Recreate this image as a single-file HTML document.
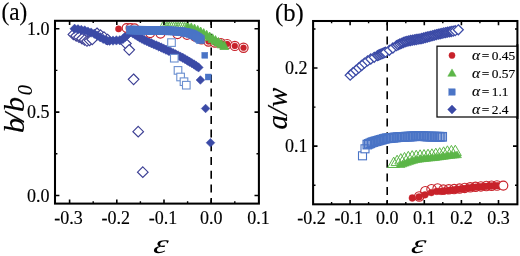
<!DOCTYPE html>
<html><head><meta charset="utf-8"><title>figure</title>
<style>
html,body{margin:0;padding:0;background:#fff;}
body{width:520px;height:256px;overflow:hidden;}
svg{display:block;}
svg text{font-family:"Liberation Serif",serif;fill:#000;stroke:#000;stroke-width:0.15px;}
</style></head>
<body>
<svg width="520" height="256" viewBox="0 0 520 256">
<rect width="520" height="256" fill="#fff"/>
<path d="M211.2 203.6V20.8" stroke="#000" stroke-width="1.6" stroke-dasharray="5.5 5.7 8.0 5.7 8.0 5.7 8.0 5.7 8.0 5.7 8.0 5.7 8.0 5.7 8.0 5.7 8.0 5.7 8.0 5.7 8.0 5.7 8.0 5.7 8.0 5.7 8.0 5.7 8.0 5.7 8.0 5.7" fill="none"/>
<path d="M73.4 29.1L78.7 34.4L73.4 39.7L68.1 34.4Z" fill="#fff" stroke="#3c3f94" stroke-width="1.15"/>
<path d="M76.2 30.5L81.5 35.8L76.2 41.1L70.9 35.8Z" fill="#fff" stroke="#3c3f94" stroke-width="1.15"/>
<path d="M79.0 31.8L84.3 37.1L79.0 42.4L73.7 37.1Z" fill="#fff" stroke="#3c3f94" stroke-width="1.15"/>
<path d="M82.0 33.3L87.3 38.6L82.0 43.9L76.7 38.6Z" fill="#fff" stroke="#3c3f94" stroke-width="1.15"/>
<path d="M84.6 34.7L89.9 40.0L84.6 45.3L79.3 40.0Z" fill="#fff" stroke="#3c3f94" stroke-width="1.15"/>
<path d="M87.0 35.7L92.3 41.0L87.0 46.3L81.7 41.0Z" fill="#fff" stroke="#3c3f94" stroke-width="1.15"/>
<path d="M89.6 35.0L94.9 40.3L89.6 45.6L84.3 40.3Z" fill="#fff" stroke="#3c3f94" stroke-width="1.15"/>
<path d="M92.2 34.1L97.5 39.4L92.2 44.7L86.9 39.4Z" fill="#fff" stroke="#3c3f94" stroke-width="1.15"/>
<path d="M97.0 28.0L102.3 33.3L97.0 38.6L91.7 33.3Z" fill="#fff" stroke="#3c3f94" stroke-width="1.15"/>
<path d="M100.5 29.8L105.8 35.1L100.5 40.4L95.2 35.1Z" fill="#fff" stroke="#3c3f94" stroke-width="1.15"/>
<path d="M104.0 31.8L109.3 37.1L104.0 42.4L98.7 37.1Z" fill="#fff" stroke="#3c3f94" stroke-width="1.15"/>
<path d="M107.5 34.2L112.8 39.5L107.5 44.8L102.2 39.5Z" fill="#fff" stroke="#3c3f94" stroke-width="1.15"/>
<path d="M125.9 38.3L131.2 43.6L125.9 48.9L120.6 43.6Z" fill="#fff" stroke="#3c3f94" stroke-width="1.15"/>
<path d="M129.2 44.5L134.5 49.8L129.2 55.1L123.9 49.8Z" fill="#fff" stroke="#3c3f94" stroke-width="1.15"/>
<path d="M133.6 74.0L138.9 79.3L133.6 84.6L128.3 79.3Z" fill="#fff" stroke="#3c3f94" stroke-width="1.15"/>
<path d="M138.2 126.4L143.5 131.7L138.2 137.0L132.9 131.7Z" fill="#fff" stroke="#3c3f94" stroke-width="1.15"/>
<path d="M142.8 166.9L148.1 172.2L142.8 177.5L137.5 172.2Z" fill="#fff" stroke="#3c3f94" stroke-width="1.15"/>
<path d="M74.6 24.1L79.3 28.8L74.6 33.5L69.9 28.8Z" fill="#3b4aa6" stroke="#3b4aa6" stroke-width="0.5"/>
<path d="M78.0 24.6L82.7 29.3L78.0 34.0L73.3 29.3Z" fill="#3b4aa6" stroke="#3b4aa6" stroke-width="0.5"/>
<path d="M81.3 25.2L86.0 29.9L81.3 34.6L76.6 29.9Z" fill="#3b4aa6" stroke="#3b4aa6" stroke-width="0.5"/>
<path d="M84.7 25.8L89.4 30.5L84.7 35.2L80.0 30.5Z" fill="#3b4aa6" stroke="#3b4aa6" stroke-width="0.5"/>
<path d="M87.9 26.9L92.6 31.6L87.9 36.3L83.2 31.6Z" fill="#3b4aa6" stroke="#3b4aa6" stroke-width="0.5"/>
<path d="M91.1 27.9L95.8 32.6L91.1 37.3L86.4 32.6Z" fill="#3b4aa6" stroke="#3b4aa6" stroke-width="0.5"/>
<path d="M94.3 29.1L99.0 33.8L94.3 38.5L89.6 33.8Z" fill="#3b4aa6" stroke="#3b4aa6" stroke-width="0.5"/>
<path d="M97.3 30.9L102.0 35.6L97.3 40.3L92.6 35.6Z" fill="#3b4aa6" stroke="#3b4aa6" stroke-width="0.5"/>
<path d="M100.2 32.5L104.9 37.2L100.2 41.9L95.5 37.2Z" fill="#3b4aa6" stroke="#3b4aa6" stroke-width="0.5"/>
<path d="M103.2 34.2L107.9 38.9L103.2 43.6L98.5 38.9Z" fill="#3b4aa6" stroke="#3b4aa6" stroke-width="0.5"/>
<path d="M106.3 35.5L111.0 40.2L106.3 44.9L101.6 40.2Z" fill="#3b4aa6" stroke="#3b4aa6" stroke-width="0.5"/>
<path d="M109.6 36.0L114.3 40.7L109.6 45.4L104.9 40.7Z" fill="#3b4aa6" stroke="#3b4aa6" stroke-width="0.5"/>
<path d="M113.0 35.9L117.7 40.6L113.0 45.3L108.3 40.6Z" fill="#3b4aa6" stroke="#3b4aa6" stroke-width="0.5"/>
<path d="M116.4 35.7L121.1 40.4L116.4 45.1L111.7 40.4Z" fill="#3b4aa6" stroke="#3b4aa6" stroke-width="0.5"/>
<path d="M119.8 35.6L124.5 40.3L119.8 45.0L115.1 40.3Z" fill="#3b4aa6" stroke="#3b4aa6" stroke-width="0.5"/>
<path d="M122.9 34.3L127.6 39.0L122.9 43.7L118.2 39.0Z" fill="#3b4aa6" stroke="#3b4aa6" stroke-width="0.5"/>
<path d="M125.5 32.1L130.2 36.8L125.5 41.5L120.8 36.8Z" fill="#3b4aa6" stroke="#3b4aa6" stroke-width="0.5"/>
<path d="M127.8 29.6L132.5 34.3L127.8 39.0L123.1 34.3Z" fill="#3b4aa6" stroke="#3b4aa6" stroke-width="0.5"/>
<path d="M130.5 27.6L135.2 32.3L130.5 37.0L125.8 32.3Z" fill="#3b4aa6" stroke="#3b4aa6" stroke-width="0.5"/>
<path d="M132.9 28.7L137.6 33.4L132.9 38.1L128.2 33.4Z" fill="#3b4aa6" stroke="#3b4aa6" stroke-width="0.5"/>
<path d="M135.2 30.0L139.9 34.7L135.2 39.4L130.5 34.7Z" fill="#3b4aa6" stroke="#3b4aa6" stroke-width="0.5"/>
<path d="M137.4 31.4L142.1 36.1L137.4 40.8L132.7 36.1Z" fill="#3b4aa6" stroke="#3b4aa6" stroke-width="0.5"/>
<path d="M139.7 32.8L144.4 37.5L139.7 42.2L135.0 37.5Z" fill="#3b4aa6" stroke="#3b4aa6" stroke-width="0.5"/>
<path d="M142.0 34.1L146.7 38.8L142.0 43.5L137.3 38.8Z" fill="#3b4aa6" stroke="#3b4aa6" stroke-width="0.5"/>
<path d="M144.3 35.3L149.0 40.0L144.3 44.7L139.6 40.0Z" fill="#3b4aa6" stroke="#3b4aa6" stroke-width="0.5"/>
<path d="M146.7 36.4L151.4 41.1L146.7 45.8L142.0 41.1Z" fill="#3b4aa6" stroke="#3b4aa6" stroke-width="0.5"/>
<path d="M149.1 37.5L153.8 42.2L149.1 46.9L144.4 42.2Z" fill="#3b4aa6" stroke="#3b4aa6" stroke-width="0.5"/>
<path d="M151.5 38.6L156.2 43.3L151.5 48.0L146.8 43.3Z" fill="#3b4aa6" stroke="#3b4aa6" stroke-width="0.5"/>
<path d="M153.9 39.7L158.6 44.4L153.9 49.1L149.2 44.4Z" fill="#3b4aa6" stroke="#3b4aa6" stroke-width="0.5"/>
<path d="M156.4 40.7L161.1 45.4L156.4 50.1L151.7 45.4Z" fill="#3b4aa6" stroke="#3b4aa6" stroke-width="0.5"/>
<path d="M158.8 41.8L163.5 46.5L158.8 51.2L154.1 46.5Z" fill="#3b4aa6" stroke="#3b4aa6" stroke-width="0.5"/>
<path d="M161.2 42.8L165.9 47.5L161.2 52.2L156.5 47.5Z" fill="#3b4aa6" stroke="#3b4aa6" stroke-width="0.5"/>
<path d="M163.6 43.9L168.3 48.6L163.6 53.3L158.9 48.6Z" fill="#3b4aa6" stroke="#3b4aa6" stroke-width="0.5"/>
<path d="M166.0 45.0L170.7 49.7L166.0 54.4L161.3 49.7Z" fill="#3b4aa6" stroke="#3b4aa6" stroke-width="0.5"/>
<path d="M168.4 46.1L173.1 50.8L168.4 55.5L163.7 50.8Z" fill="#3b4aa6" stroke="#3b4aa6" stroke-width="0.5"/>
<path d="M170.8 47.2L175.5 51.9L170.8 56.6L166.1 51.9Z" fill="#3b4aa6" stroke="#3b4aa6" stroke-width="0.5"/>
<path d="M173.2 48.4L177.9 53.1L173.2 57.8L168.5 53.1Z" fill="#3b4aa6" stroke="#3b4aa6" stroke-width="0.5"/>
<path d="M175.6 49.6L180.3 54.3L175.6 59.0L170.9 54.3Z" fill="#3b4aa6" stroke="#3b4aa6" stroke-width="0.5"/>
<path d="M178.0 50.7L182.7 55.4L178.0 60.1L173.3 55.4Z" fill="#3b4aa6" stroke="#3b4aa6" stroke-width="0.5"/>
<path d="M180.3 51.9L185.0 56.6L180.3 61.3L175.6 56.6Z" fill="#3b4aa6" stroke="#3b4aa6" stroke-width="0.5"/>
<path d="M182.7 53.1L187.4 57.8L182.7 62.5L178.0 57.8Z" fill="#3b4aa6" stroke="#3b4aa6" stroke-width="0.5"/>
<path d="M185.0 54.4L189.7 59.1L185.0 63.8L180.3 59.1Z" fill="#3b4aa6" stroke="#3b4aa6" stroke-width="0.5"/>
<path d="M187.3 55.8L192.0 60.5L187.3 65.2L182.6 60.5Z" fill="#3b4aa6" stroke="#3b4aa6" stroke-width="0.5"/>
<path d="M189.5 57.1L194.2 61.8L189.5 66.5L184.8 61.8Z" fill="#3b4aa6" stroke="#3b4aa6" stroke-width="0.5"/>
<path d="M191.8 58.4L196.5 63.1L191.8 67.8L187.1 63.1Z" fill="#3b4aa6" stroke="#3b4aa6" stroke-width="0.5"/>
<path d="M194.1 59.8L198.8 64.5L194.1 69.2L189.4 64.5Z" fill="#3b4aa6" stroke="#3b4aa6" stroke-width="0.5"/>
<path d="M196.3 61.3L201.0 66.0L196.3 70.7L191.6 66.0Z" fill="#3b4aa6" stroke="#3b4aa6" stroke-width="0.5"/>
<path d="M198.5 62.7L203.2 67.4L198.5 72.1L193.8 67.4Z" fill="#3b4aa6" stroke="#3b4aa6" stroke-width="0.5"/>
<path d="M200.4 75.7L204.7 80.0L200.4 84.3L196.1 80.0Z" fill="#3b4aa6" stroke="#3b4aa6" stroke-width="0.6"/>
<path d="M205.6 104.2L209.9 108.5L205.6 112.8L201.3 108.5Z" fill="#3b4aa6" stroke="#3b4aa6" stroke-width="0.6"/>
<path d="M210.5 138.4L214.8 142.7L210.5 147.0L206.2 142.7Z" fill="#3b4aa6" stroke="#3b4aa6" stroke-width="0.6"/>
<circle cx="118.6" cy="28.9" r="3.15" fill="#c8222a" stroke="#c8222a" stroke-width="0.5"/>
<circle cx="126.6" cy="28.0" r="4.4" fill="#fff" stroke="#c8222a" stroke-width="1.2"/>
<circle cx="130.5" cy="28.0" r="4.4" fill="#fff" stroke="#c8222a" stroke-width="1.2"/>
<circle cx="134.5" cy="28.2" r="4.4" fill="#fff" stroke="#c8222a" stroke-width="1.2"/>
<circle cx="150.2" cy="33.3" r="4.4" fill="#fff" stroke="#c8222a" stroke-width="1.2"/>
<circle cx="160.5" cy="33.7" r="4.4" fill="#fff" stroke="#c8222a" stroke-width="1.2"/>
<circle cx="177.5" cy="34.3" r="4.4" fill="#fff" stroke="#c8222a" stroke-width="1.2"/>
<circle cx="187.0" cy="35.0" r="4.4" fill="#fff" stroke="#c8222a" stroke-width="1.2"/>
<circle cx="195.0" cy="36.8" r="4.4" fill="#fff" stroke="#c8222a" stroke-width="1.2"/>
<circle cx="201.5" cy="39.2" r="4.6" fill="#fff" stroke="#c8222a" stroke-width="1.2"/>
<circle cx="208.5" cy="41.6" r="4.6" fill="#fff" stroke="#c8222a" stroke-width="1.2"/>
<circle cx="215.0" cy="42.6" r="4.6" fill="#fff" stroke="#c8222a" stroke-width="1.2"/>
<circle cx="221.0" cy="43.2" r="4.6" fill="#fff" stroke="#c8222a" stroke-width="1.2"/>
<circle cx="227.2" cy="44.1" r="4.6" fill="#fff" stroke="#c8222a" stroke-width="1.2"/>
<circle cx="234.8" cy="45.9" r="4.6" fill="#fff" stroke="#c8222a" stroke-width="1.2"/>
<circle cx="243.5" cy="47.8" r="4.6" fill="#fff" stroke="#c8222a" stroke-width="1.2"/>
<circle cx="201.5" cy="39.2" r="3.0" fill="#c8222a" stroke="#c8222a" stroke-width="0.4"/>
<circle cx="208.5" cy="41.6" r="3.0" fill="#c8222a" stroke="#c8222a" stroke-width="0.4"/>
<circle cx="215.0" cy="42.6" r="3.0" fill="#c8222a" stroke="#c8222a" stroke-width="0.4"/>
<circle cx="221.0" cy="43.2" r="3.0" fill="#c8222a" stroke="#c8222a" stroke-width="0.4"/>
<circle cx="227.2" cy="44.1" r="3.0" fill="#c8222a" stroke="#c8222a" stroke-width="0.4"/>
<circle cx="234.8" cy="45.9" r="3.0" fill="#c8222a" stroke="#c8222a" stroke-width="0.4"/>
<circle cx="243.5" cy="47.8" r="3.0" fill="#c8222a" stroke="#c8222a" stroke-width="0.4"/>
<path d="M162.5 21.9L165.4 28.1L159.6 28.1Z" fill="none" stroke="#63b94f" stroke-width="1.0" stroke-linejoin="miter"/>
<path d="M164.7 21.9L167.6 28.1L161.8 28.1Z" fill="none" stroke="#63b94f" stroke-width="1.0" stroke-linejoin="miter"/>
<path d="M167.0 22.0L169.9 28.2L164.1 28.2Z" fill="none" stroke="#63b94f" stroke-width="1.0" stroke-linejoin="miter"/>
<path d="M169.2 22.0L172.1 28.2L166.3 28.2Z" fill="none" stroke="#63b94f" stroke-width="1.0" stroke-linejoin="miter"/>
<path d="M171.4 22.0L174.3 28.2L168.5 28.2Z" fill="none" stroke="#63b94f" stroke-width="1.0" stroke-linejoin="miter"/>
<path d="M173.6 22.0L176.5 28.2L170.7 28.2Z" fill="none" stroke="#63b94f" stroke-width="1.0" stroke-linejoin="miter"/>
<path d="M175.9 22.1L178.8 28.3L173.0 28.3Z" fill="none" stroke="#63b94f" stroke-width="1.0" stroke-linejoin="miter"/>
<path d="M178.1 22.1L181.0 28.3L175.2 28.3Z" fill="none" stroke="#63b94f" stroke-width="1.0" stroke-linejoin="miter"/>
<path d="M180.3 22.1L183.2 28.3L177.4 28.3Z" fill="none" stroke="#63b94f" stroke-width="1.0" stroke-linejoin="miter"/>
<path d="M182.6 22.2L185.5 28.4L179.7 28.4Z" fill="none" stroke="#63b94f" stroke-width="1.0" stroke-linejoin="miter"/>
<path d="M184.8 22.4L187.7 28.6L181.9 28.6Z" fill="none" stroke="#63b94f" stroke-width="1.0" stroke-linejoin="miter"/>
<path d="M187.0 22.5L189.9 28.7L184.1 28.7Z" fill="none" stroke="#63b94f" stroke-width="1.0" stroke-linejoin="miter"/>
<path d="M188.0 22.1L192.4 30.7L183.6 30.7Z" fill="#5cb648" stroke="#5cb648" stroke-width="0.8" stroke-linejoin="miter"/>
<path d="M191.3 22.9L195.7 31.5L186.9 31.5Z" fill="#5cb648" stroke="#5cb648" stroke-width="0.8" stroke-linejoin="miter"/>
<path d="M194.5 24.1L198.9 32.7L190.1 32.7Z" fill="#5cb648" stroke="#5cb648" stroke-width="0.8" stroke-linejoin="miter"/>
<path d="M197.7 25.4L202.1 34.0L193.3 34.0Z" fill="#5cb648" stroke="#5cb648" stroke-width="0.8" stroke-linejoin="miter"/>
<path d="M200.7 27.0L205.1 35.6L196.3 35.6Z" fill="#5cb648" stroke="#5cb648" stroke-width="0.8" stroke-linejoin="miter"/>
<path d="M203.7 28.6L208.1 37.2L199.3 37.2Z" fill="#5cb648" stroke="#5cb648" stroke-width="0.8" stroke-linejoin="miter"/>
<path d="M206.7 30.3L211.1 38.9L202.3 38.9Z" fill="#5cb648" stroke="#5cb648" stroke-width="0.8" stroke-linejoin="miter"/>
<path d="M209.7 32.0L214.1 40.6L205.3 40.6Z" fill="#5cb648" stroke="#5cb648" stroke-width="0.8" stroke-linejoin="miter"/>
<path d="M212.6 33.8L217.0 42.4L208.2 42.4Z" fill="#5cb648" stroke="#5cb648" stroke-width="0.8" stroke-linejoin="miter"/>
<path d="M215.5 35.6L219.9 44.2L211.1 44.2Z" fill="#5cb648" stroke="#5cb648" stroke-width="0.8" stroke-linejoin="miter"/>
<path d="M218.4 37.4L222.8 46.0L214.0 46.0Z" fill="#5cb648" stroke="#5cb648" stroke-width="0.8" stroke-linejoin="miter"/>
<path d="M221.3 39.2L225.7 47.8L216.9 47.8Z" fill="#5cb648" stroke="#5cb648" stroke-width="0.8" stroke-linejoin="miter"/>
<path d="M224.3 40.9L228.7 49.5L219.9 49.5Z" fill="#5cb648" stroke="#5cb648" stroke-width="0.8" stroke-linejoin="miter"/>
<rect x="167.7" y="38.8" width="7.6" height="7.6" fill="#fff" stroke="#6a8fd0" stroke-width="1.1"/>
<rect x="170.5" y="54.4" width="7.6" height="7.6" fill="#fff" stroke="#6a8fd0" stroke-width="1.1"/>
<rect x="174.2" y="66.6" width="7.6" height="7.6" fill="#fff" stroke="#6a8fd0" stroke-width="1.1"/>
<rect x="176.8" y="73.2" width="7.6" height="7.6" fill="#fff" stroke="#6a8fd0" stroke-width="1.1"/>
<rect x="180.2" y="77.9" width="7.6" height="7.6" fill="#fff" stroke="#6a8fd0" stroke-width="1.1"/>
<rect x="182.5" y="81.4" width="7.6" height="7.6" fill="#fff" stroke="#6a8fd0" stroke-width="1.1"/>
<rect x="126.2" y="26.0" width="8.0" height="8.0" fill="#4a74c6" stroke="#4a74c6" stroke-width="0.5"/>
<rect x="128.2" y="26.0" width="8.0" height="8.0" fill="#4a74c6" stroke="#4a74c6" stroke-width="0.5"/>
<rect x="130.2" y="26.1" width="8.0" height="8.0" fill="#4a74c6" stroke="#4a74c6" stroke-width="0.5"/>
<rect x="132.2" y="26.1" width="8.0" height="8.0" fill="#4a74c6" stroke="#4a74c6" stroke-width="0.5"/>
<rect x="134.2" y="26.2" width="8.0" height="8.0" fill="#4a74c6" stroke="#4a74c6" stroke-width="0.5"/>
<rect x="136.3" y="26.2" width="8.0" height="8.0" fill="#4a74c6" stroke="#4a74c6" stroke-width="0.5"/>
<rect x="138.3" y="26.2" width="8.0" height="8.0" fill="#4a74c6" stroke="#4a74c6" stroke-width="0.5"/>
<rect x="140.3" y="26.3" width="8.0" height="8.0" fill="#4a74c6" stroke="#4a74c6" stroke-width="0.5"/>
<rect x="142.3" y="26.3" width="8.0" height="8.0" fill="#4a74c6" stroke="#4a74c6" stroke-width="0.5"/>
<rect x="144.3" y="26.4" width="8.0" height="8.0" fill="#4a74c6" stroke="#4a74c6" stroke-width="0.5"/>
<rect x="146.3" y="26.4" width="8.0" height="8.0" fill="#4a74c6" stroke="#4a74c6" stroke-width="0.5"/>
<rect x="148.3" y="26.5" width="8.0" height="8.0" fill="#4a74c6" stroke="#4a74c6" stroke-width="0.5"/>
<rect x="150.3" y="26.5" width="8.0" height="8.0" fill="#4a74c6" stroke="#4a74c6" stroke-width="0.5"/>
<rect x="152.3" y="26.6" width="8.0" height="8.0" fill="#4a74c6" stroke="#4a74c6" stroke-width="0.5"/>
<rect x="154.3" y="26.6" width="8.0" height="8.0" fill="#4a74c6" stroke="#4a74c6" stroke-width="0.5"/>
<rect x="156.4" y="26.6" width="8.0" height="8.0" fill="#4a74c6" stroke="#4a74c6" stroke-width="0.5"/>
<rect x="158.4" y="26.7" width="8.0" height="8.0" fill="#4a74c6" stroke="#4a74c6" stroke-width="0.5"/>
<rect x="160.4" y="26.7" width="8.0" height="8.0" fill="#4a74c6" stroke="#4a74c6" stroke-width="0.5"/>
<rect x="162.4" y="26.8" width="8.0" height="8.0" fill="#4a74c6" stroke="#4a74c6" stroke-width="0.5"/>
<rect x="164.4" y="26.8" width="8.0" height="8.0" fill="#4a74c6" stroke="#4a74c6" stroke-width="0.5"/>
<rect x="166.4" y="26.9" width="8.0" height="8.0" fill="#4a74c6" stroke="#4a74c6" stroke-width="0.5"/>
<rect x="168.4" y="26.9" width="8.0" height="8.0" fill="#4a74c6" stroke="#4a74c6" stroke-width="0.5"/>
<rect x="170.4" y="27.0" width="8.0" height="8.0" fill="#4a74c6" stroke="#4a74c6" stroke-width="0.5"/>
<rect x="172.4" y="27.2" width="8.0" height="8.0" fill="#4a74c6" stroke="#4a74c6" stroke-width="0.5"/>
<rect x="174.4" y="27.4" width="8.0" height="8.0" fill="#4a74c6" stroke="#4a74c6" stroke-width="0.5"/>
<rect x="176.4" y="27.6" width="8.0" height="8.0" fill="#4a74c6" stroke="#4a74c6" stroke-width="0.5"/>
<rect x="178.4" y="27.8" width="8.0" height="8.0" fill="#4a74c6" stroke="#4a74c6" stroke-width="0.5"/>
<rect x="180.4" y="28.2" width="8.0" height="8.0" fill="#4a74c6" stroke="#4a74c6" stroke-width="0.5"/>
<rect x="182.4" y="28.6" width="8.0" height="8.0" fill="#4a74c6" stroke="#4a74c6" stroke-width="0.5"/>
<rect x="184.3" y="29.0" width="8.0" height="8.0" fill="#4a74c6" stroke="#4a74c6" stroke-width="0.5"/>
<rect x="186.3" y="29.6" width="8.0" height="8.0" fill="#4a74c6" stroke="#4a74c6" stroke-width="0.5"/>
<rect x="188.2" y="30.2" width="8.0" height="8.0" fill="#4a74c6" stroke="#4a74c6" stroke-width="0.5"/>
<rect x="190.0" y="31.0" width="8.0" height="8.0" fill="#4a74c6" stroke="#4a74c6" stroke-width="0.5"/>
<rect x="191.8" y="32.0" width="8.0" height="8.0" fill="#4a74c6" stroke="#4a74c6" stroke-width="0.5"/>
<rect x="193.5" y="33.1" width="8.0" height="8.0" fill="#4a74c6" stroke="#4a74c6" stroke-width="0.5"/>
<rect x="195.0" y="34.3" width="8.0" height="8.0" fill="#4a74c6" stroke="#4a74c6" stroke-width="0.5"/>
<rect x="196.5" y="35.7" width="8.0" height="8.0" fill="#4a74c6" stroke="#4a74c6" stroke-width="0.5"/>
<rect x="201.8" y="52.3" width="6.0" height="6.0" fill="#4a74c6" stroke="#4a74c6" stroke-width="0.4"/>
<rect x="205.2" y="74.0" width="6.0" height="6.0" fill="#4a74c6" stroke="#4a74c6" stroke-width="0.4"/>
<rect x="55.0" y="20.8" width="203.89999999999998" height="182.79999999999998" fill="none" stroke="#000" stroke-width="2.05"/>
<path d="M69.6 203.6v-4.2M69.6 20.8v4.2" stroke="#000" stroke-width="1.6"/><path d="M116.8 203.6v-4.2M116.8 20.8v4.2" stroke="#000" stroke-width="1.6"/><path d="M164.0 203.6v-4.2M164.0 20.8v4.2" stroke="#000" stroke-width="1.6"/><path d="M211.2 203.6v-4.2M211.2 20.8v4.2" stroke="#000" stroke-width="1.6"/><path d="M93.2 203.6v-2.3M93.2 20.8v2.3" stroke="#000" stroke-width="1.4"/><path d="M140.4 203.6v-2.3M140.4 20.8v2.3" stroke="#000" stroke-width="1.4"/><path d="M187.6 203.6v-2.3M187.6 20.8v2.3" stroke="#000" stroke-width="1.4"/><path d="M234.8 203.6v-2.3M234.8 20.8v2.3" stroke="#000" stroke-width="1.4"/>
<path d="M55.0 195.5h4.4M258.9 195.5h-4.4" stroke="#000" stroke-width="1.6"/><path d="M55.0 112.1h4.4M258.9 112.1h-4.4" stroke="#000" stroke-width="1.6"/><path d="M55.0 28.7h4.4M258.9 28.7h-4.4" stroke="#000" stroke-width="1.6"/><path d="M55.0 153.8h2.4M258.9 153.8h-2.4" stroke="#000" stroke-width="1.4"/><path d="M55.0 70.4h2.4M258.9 70.4h-2.4" stroke="#000" stroke-width="1.4"/>
<path d="M387.2 204.3V21.0" stroke="#000" stroke-width="1.6" stroke-dasharray="3.5 5.7 8.0 5.7 8.0 5.7 8.0 5.7 8.0 5.7 8.0 5.7 8.0 5.7 8.0 5.7 8.0 5.7 8.0 5.7 8.0 5.7 8.0 5.7 8.0 5.7 8.0 5.7 8.0 5.7 8.0 5.7" fill="none"/>
<path d="M350.2 70.2L355.2 75.2L350.2 80.2L345.2 75.2Z" fill="#fff" stroke="#3b4aa6" stroke-width="1.25"/>
<path d="M353.0 67.7L358.0 72.7L353.0 77.7L348.0 72.7Z" fill="#fff" stroke="#3b4aa6" stroke-width="1.25"/>
<path d="M355.9 65.3L360.9 70.3L355.9 75.3L350.9 70.3Z" fill="#fff" stroke="#3b4aa6" stroke-width="1.25"/>
<path d="M358.8 62.9L363.8 67.9L358.8 72.9L353.8 67.9Z" fill="#fff" stroke="#3b4aa6" stroke-width="1.25"/>
<path d="M361.6 60.5L366.6 65.5L361.6 70.5L356.6 65.5Z" fill="#fff" stroke="#3b4aa6" stroke-width="1.25"/>
<path d="M364.5 58.1L369.5 63.1L364.5 68.1L359.5 63.1Z" fill="#fff" stroke="#3b4aa6" stroke-width="1.25"/>
<path d="M367.6 55.9L372.6 60.9L367.6 65.9L362.6 60.9Z" fill="#fff" stroke="#3b4aa6" stroke-width="1.25"/>
<path d="M370.8 54.0L375.8 59.0L370.8 64.0L365.8 59.0Z" fill="#fff" stroke="#3b4aa6" stroke-width="1.25"/>
<path d="M374.2 52.3L379.2 57.3L374.2 62.3L369.2 57.3Z" fill="#fff" stroke="#3b4aa6" stroke-width="1.25"/>
<path d="M377.5 50.6L382.5 55.6L377.5 60.6L372.5 55.6Z" fill="#fff" stroke="#3b4aa6" stroke-width="1.25"/>
<path d="M378.6 50.1L383.6 55.1L378.6 60.1L373.6 55.1Z" fill="#fff" stroke="#3b4aa6" stroke-width="1.25"/>
<path d="M379.8 49.6L384.8 54.6L379.8 59.6L374.8 54.6Z" fill="#fff" stroke="#3b4aa6" stroke-width="1.25"/>
<path d="M380.9 49.1L385.9 54.1L380.9 59.1L375.9 54.1Z" fill="#fff" stroke="#3b4aa6" stroke-width="1.25"/>
<path d="M382.1 48.7L387.1 53.7L382.1 58.7L377.1 53.7Z" fill="#fff" stroke="#3b4aa6" stroke-width="1.25"/>
<path d="M383.2 48.2L388.2 53.2L383.2 58.2L378.2 53.2Z" fill="#fff" stroke="#3b4aa6" stroke-width="1.25"/>
<path d="M384.4 47.7L389.4 52.7L384.4 57.7L379.4 52.7Z" fill="#fff" stroke="#3b4aa6" stroke-width="1.25"/>
<path d="M385.5 47.2L390.5 52.2L385.5 57.2L380.5 52.2Z" fill="#fff" stroke="#3b4aa6" stroke-width="1.25"/>
<path d="M389.3 45.3L394.3 50.3L389.3 55.3L384.3 50.3Z" fill="#fff" stroke="#3b4aa6" stroke-width="1.25"/>
<path d="M392.9 43.0L397.9 48.0L392.9 53.0L387.9 48.0Z" fill="#fff" stroke="#3b4aa6" stroke-width="1.25"/>
<path d="M396.5 40.7L401.5 45.7L396.5 50.7L391.5 45.7Z" fill="#fff" stroke="#3b4aa6" stroke-width="1.25"/>
<path d="M398.1 39.8L403.1 44.8L398.1 49.8L393.1 44.8Z" fill="none" stroke="#3b4aa6" stroke-width="1.25"/>
<path d="M399.9 39.0L404.9 44.0L399.9 49.0L394.9 44.0Z" fill="none" stroke="#3b4aa6" stroke-width="1.25"/>
<path d="M401.6 38.3L406.6 43.3L401.6 48.3L396.6 43.3Z" fill="none" stroke="#3b4aa6" stroke-width="1.25"/>
<path d="M403.4 37.5L408.4 42.5L403.4 47.5L398.4 42.5Z" fill="none" stroke="#3b4aa6" stroke-width="1.25"/>
<path d="M405.1 36.8L410.1 41.8L405.1 46.8L400.1 41.8Z" fill="none" stroke="#3b4aa6" stroke-width="1.25"/>
<path d="M406.9 36.3L411.9 41.3L406.9 46.3L401.9 41.3Z" fill="none" stroke="#3b4aa6" stroke-width="1.25"/>
<path d="M408.8 35.9L413.8 40.9L408.8 45.9L403.8 40.9Z" fill="none" stroke="#3b4aa6" stroke-width="1.25"/>
<path d="M410.6 35.5L415.6 40.5L410.6 45.5L405.6 40.5Z" fill="none" stroke="#3b4aa6" stroke-width="1.25"/>
<path d="M412.5 35.1L417.5 40.1L412.5 45.1L407.5 40.1Z" fill="none" stroke="#3b4aa6" stroke-width="1.25"/>
<path d="M414.3 34.8L419.3 39.8L414.3 44.8L409.3 39.8Z" fill="none" stroke="#3b4aa6" stroke-width="1.25"/>
<path d="M416.2 34.5L421.2 39.5L416.2 44.5L411.2 39.5Z" fill="none" stroke="#3b4aa6" stroke-width="1.25"/>
<path d="M418.1 34.2L423.1 39.2L418.1 44.2L413.1 39.2Z" fill="none" stroke="#3b4aa6" stroke-width="1.25"/>
<path d="M420.0 33.9L425.0 38.9L420.0 43.9L415.0 38.9Z" fill="none" stroke="#3b4aa6" stroke-width="1.25"/>
<path d="M421.8 33.5L426.8 38.5L421.8 43.5L416.8 38.5Z" fill="none" stroke="#3b4aa6" stroke-width="1.25"/>
<path d="M423.6 33.0L428.6 38.0L423.6 43.0L418.6 38.0Z" fill="none" stroke="#3b4aa6" stroke-width="1.25"/>
<path d="M425.5 32.5L430.5 37.5L425.5 42.5L420.5 37.5Z" fill="none" stroke="#3b4aa6" stroke-width="1.25"/>
<path d="M427.3 32.0L432.3 37.0L427.3 42.0L422.3 37.0Z" fill="none" stroke="#3b4aa6" stroke-width="1.25"/>
<path d="M429.1 31.6L434.1 36.6L429.1 41.6L424.1 36.6Z" fill="none" stroke="#3b4aa6" stroke-width="1.25"/>
<path d="M430.9 31.1L435.9 36.1L430.9 41.1L425.9 36.1Z" fill="none" stroke="#3b4aa6" stroke-width="1.25"/>
<path d="M432.8 30.6L437.8 35.6L432.8 40.6L427.8 35.6Z" fill="none" stroke="#3b4aa6" stroke-width="1.25"/>
<path d="M434.6 30.1L439.6 35.1L434.6 40.1L429.6 35.1Z" fill="none" stroke="#3b4aa6" stroke-width="1.25"/>
<path d="M436.4 29.6L441.4 34.6L436.4 39.6L431.4 34.6Z" fill="none" stroke="#3b4aa6" stroke-width="1.25"/>
<path d="M438.3 29.2L443.3 34.2L438.3 39.2L433.3 34.2Z" fill="none" stroke="#3b4aa6" stroke-width="1.25"/>
<path d="M440.1 28.8L445.1 33.8L440.1 38.8L435.1 33.8Z" fill="none" stroke="#3b4aa6" stroke-width="1.25"/>
<path d="M442.0 28.4L447.0 33.4L442.0 38.4L437.0 33.4Z" fill="none" stroke="#3b4aa6" stroke-width="1.25"/>
<path d="M443.8 27.9L448.8 32.9L443.8 37.9L438.8 32.9Z" fill="none" stroke="#3b4aa6" stroke-width="1.25"/>
<path d="M445.7 27.6L450.7 32.6L445.7 37.6L440.7 32.6Z" fill="none" stroke="#3b4aa6" stroke-width="1.25"/>
<path d="M447.5 27.2L452.5 32.2L447.5 37.2L442.5 32.2Z" fill="none" stroke="#3b4aa6" stroke-width="1.25"/>
<path d="M449.4 26.9L454.4 31.9L449.4 36.9L444.4 31.9Z" fill="none" stroke="#3b4aa6" stroke-width="1.25"/>
<path d="M451.2 26.5L456.2 31.5L451.2 36.5L446.2 31.5Z" fill="none" stroke="#3b4aa6" stroke-width="1.25"/>
<path d="M453.2 26.1L458.2 31.1L453.2 36.1L448.2 31.1Z" fill="#fff" stroke="#3b4aa6" stroke-width="1.25"/>
<path d="M455.2 25.7L460.2 30.7L455.2 35.7L450.2 30.7Z" fill="#fff" stroke="#3b4aa6" stroke-width="1.25"/>
<path d="M458.3 24.8L463.3 29.8L458.3 34.8L453.3 29.8Z" fill="#fff" stroke="#3b4aa6" stroke-width="1.25"/>
<rect x="358.5" y="151.8" width="8" height="8" fill="#fff" stroke="#4a74c6" stroke-width="1.1"/>
<rect x="361.0" y="144.8" width="8" height="8" fill="#fff" stroke="#4a74c6" stroke-width="1.1"/>
<rect x="363.1" y="140.4" width="8.4" height="8.4" fill="none" stroke="#4a74c6" stroke-width="1.3"/>
<rect x="364.5" y="139.7" width="8.4" height="8.4" fill="none" stroke="#4a74c6" stroke-width="1.3"/>
<rect x="366.0" y="139.1" width="8.4" height="8.4" fill="none" stroke="#4a74c6" stroke-width="1.3"/>
<rect x="367.4" y="138.4" width="8.4" height="8.4" fill="none" stroke="#4a74c6" stroke-width="1.3"/>
<rect x="368.9" y="137.9" width="8.4" height="8.4" fill="none" stroke="#4a74c6" stroke-width="1.3"/>
<rect x="370.4" y="137.4" width="8.4" height="8.4" fill="none" stroke="#4a74c6" stroke-width="1.3"/>
<rect x="372.0" y="137.0" width="8.4" height="8.4" fill="none" stroke="#4a74c6" stroke-width="1.3"/>
<rect x="373.5" y="136.6" width="8.4" height="8.4" fill="none" stroke="#4a74c6" stroke-width="1.3"/>
<rect x="375.0" y="136.1" width="8.4" height="8.4" fill="none" stroke="#4a74c6" stroke-width="1.3"/>
<rect x="376.5" y="135.7" width="8.4" height="8.4" fill="none" stroke="#4a74c6" stroke-width="1.3"/>
<rect x="378.0" y="135.3" width="8.4" height="8.4" fill="none" stroke="#4a74c6" stroke-width="1.3"/>
<rect x="379.6" y="134.8" width="8.4" height="8.4" fill="none" stroke="#4a74c6" stroke-width="1.3"/>
<rect x="381.1" y="134.4" width="8.4" height="8.4" fill="none" stroke="#4a74c6" stroke-width="1.3"/>
<rect x="382.6" y="134.1" width="8.4" height="8.4" fill="none" stroke="#4a74c6" stroke-width="1.3"/>
<rect x="384.2" y="134.0" width="8.4" height="8.4" fill="none" stroke="#4a74c6" stroke-width="1.3"/>
<rect x="385.8" y="133.8" width="8.4" height="8.4" fill="none" stroke="#4a74c6" stroke-width="1.3"/>
<rect x="387.4" y="133.6" width="8.4" height="8.4" fill="none" stroke="#4a74c6" stroke-width="1.3"/>
<rect x="389.0" y="133.5" width="8.4" height="8.4" fill="none" stroke="#4a74c6" stroke-width="1.3"/>
<rect x="390.5" y="133.3" width="8.4" height="8.4" fill="none" stroke="#4a74c6" stroke-width="1.3"/>
<rect x="392.1" y="133.2" width="8.4" height="8.4" fill="none" stroke="#4a74c6" stroke-width="1.3"/>
<rect x="393.7" y="133.0" width="8.4" height="8.4" fill="none" stroke="#4a74c6" stroke-width="1.3"/>
<rect x="395.3" y="132.9" width="8.4" height="8.4" fill="none" stroke="#4a74c6" stroke-width="1.3"/>
<rect x="396.8" y="132.7" width="8.4" height="8.4" fill="none" stroke="#4a74c6" stroke-width="1.3"/>
<rect x="398.4" y="132.7" width="8.4" height="8.4" fill="none" stroke="#4a74c6" stroke-width="1.3"/>
<rect x="400.0" y="132.6" width="8.4" height="8.4" fill="none" stroke="#4a74c6" stroke-width="1.3"/>
<rect x="401.6" y="132.5" width="8.4" height="8.4" fill="none" stroke="#4a74c6" stroke-width="1.3"/>
<rect x="403.2" y="132.4" width="8.4" height="8.4" fill="none" stroke="#4a74c6" stroke-width="1.3"/>
<rect x="404.8" y="132.4" width="8.4" height="8.4" fill="none" stroke="#4a74c6" stroke-width="1.3"/>
<rect x="406.3" y="132.3" width="8.4" height="8.4" fill="none" stroke="#4a74c6" stroke-width="1.3"/>
<rect x="407.9" y="132.2" width="8.4" height="8.4" fill="none" stroke="#4a74c6" stroke-width="1.3"/>
<rect x="409.5" y="132.1" width="8.4" height="8.4" fill="none" stroke="#4a74c6" stroke-width="1.3"/>
<rect x="411.1" y="132.0" width="8.4" height="8.4" fill="none" stroke="#4a74c6" stroke-width="1.3"/>
<rect x="412.7" y="132.0" width="8.4" height="8.4" fill="none" stroke="#4a74c6" stroke-width="1.3"/>
<rect x="414.3" y="131.9" width="8.4" height="8.4" fill="none" stroke="#4a74c6" stroke-width="1.3"/>
<rect x="415.8" y="131.8" width="8.4" height="8.4" fill="none" stroke="#4a74c6" stroke-width="1.3"/>
<rect x="417.4" y="131.9" width="8.4" height="8.4" fill="none" stroke="#4a74c6" stroke-width="1.3"/>
<rect x="419.0" y="132.0" width="8.4" height="8.4" fill="none" stroke="#4a74c6" stroke-width="1.3"/>
<rect x="420.6" y="132.1" width="8.4" height="8.4" fill="none" stroke="#4a74c6" stroke-width="1.3"/>
<rect x="422.2" y="132.3" width="8.4" height="8.4" fill="none" stroke="#4a74c6" stroke-width="1.3"/>
<rect x="423.7" y="132.3" width="8.4" height="8.4" fill="none" stroke="#4a74c6" stroke-width="1.3"/>
<rect x="425.3" y="132.3" width="8.4" height="8.4" fill="none" stroke="#4a74c6" stroke-width="1.3"/>
<rect x="426.9" y="132.4" width="8.4" height="8.4" fill="none" stroke="#4a74c6" stroke-width="1.3"/>
<rect x="428.5" y="132.4" width="8.4" height="8.4" fill="none" stroke="#4a74c6" stroke-width="1.3"/>
<rect x="430.1" y="132.4" width="8.4" height="8.4" fill="none" stroke="#4a74c6" stroke-width="1.3"/>
<rect x="431.7" y="132.5" width="8.4" height="8.4" fill="none" stroke="#4a74c6" stroke-width="1.3"/>
<rect x="433.2" y="132.5" width="8.4" height="8.4" fill="none" stroke="#4a74c6" stroke-width="1.3"/>
<rect x="434.8" y="132.5" width="8.4" height="8.4" fill="none" stroke="#4a74c6" stroke-width="1.3"/>
<rect x="436.4" y="132.6" width="8.4" height="8.4" fill="none" stroke="#4a74c6" stroke-width="1.3"/>
<rect x="438.0" y="132.6" width="8.4" height="8.4" fill="none" stroke="#4a74c6" stroke-width="1.3"/>
<path d="M400.5 160.9L405.0 167.5L396.0 167.5Z" fill="#5cb648" stroke="#5cb648" stroke-width="0.6" stroke-linejoin="miter"/>
<path d="M402.6 160.2L407.1 166.8L398.1 166.8Z" fill="#5cb648" stroke="#5cb648" stroke-width="0.6" stroke-linejoin="miter"/>
<path d="M404.7 159.5L409.2 166.1L400.2 166.1Z" fill="#5cb648" stroke="#5cb648" stroke-width="0.6" stroke-linejoin="miter"/>
<path d="M406.8 158.7L411.3 165.3L402.3 165.3Z" fill="#5cb648" stroke="#5cb648" stroke-width="0.6" stroke-linejoin="miter"/>
<path d="M408.9 158.0L413.4 164.6L404.4 164.6Z" fill="#5cb648" stroke="#5cb648" stroke-width="0.6" stroke-linejoin="miter"/>
<path d="M411.0 157.3L415.5 163.9L406.5 163.9Z" fill="#5cb648" stroke="#5cb648" stroke-width="0.6" stroke-linejoin="miter"/>
<path d="M413.1 156.7L417.6 163.3L408.6 163.3Z" fill="#5cb648" stroke="#5cb648" stroke-width="0.6" stroke-linejoin="miter"/>
<path d="M415.2 156.0L419.7 162.6L410.7 162.6Z" fill="#5cb648" stroke="#5cb648" stroke-width="0.6" stroke-linejoin="miter"/>
<path d="M417.4 155.7L421.9 162.3L412.9 162.3Z" fill="#5cb648" stroke="#5cb648" stroke-width="0.6" stroke-linejoin="miter"/>
<path d="M419.6 155.4L424.1 162.0L415.1 162.0Z" fill="#5cb648" stroke="#5cb648" stroke-width="0.6" stroke-linejoin="miter"/>
<path d="M421.8 155.1L426.3 161.7L417.3 161.7Z" fill="#5cb648" stroke="#5cb648" stroke-width="0.6" stroke-linejoin="miter"/>
<path d="M424.0 154.8L428.5 161.4L419.5 161.4Z" fill="#5cb648" stroke="#5cb648" stroke-width="0.6" stroke-linejoin="miter"/>
<path d="M426.2 154.6L430.7 161.2L421.7 161.2Z" fill="#5cb648" stroke="#5cb648" stroke-width="0.6" stroke-linejoin="miter"/>
<path d="M428.4 154.4L432.9 161.0L423.9 161.0Z" fill="#5cb648" stroke="#5cb648" stroke-width="0.6" stroke-linejoin="miter"/>
<path d="M430.6 154.2L435.1 160.8L426.1 160.8Z" fill="#5cb648" stroke="#5cb648" stroke-width="0.6" stroke-linejoin="miter"/>
<path d="M432.8 154.0L437.3 160.6L428.3 160.6Z" fill="#5cb648" stroke="#5cb648" stroke-width="0.6" stroke-linejoin="miter"/>
<path d="M435.0 153.8L439.5 160.4L430.5 160.4Z" fill="#5cb648" stroke="#5cb648" stroke-width="0.6" stroke-linejoin="miter"/>
<path d="M437.2 153.5L441.7 160.1L432.7 160.1Z" fill="#5cb648" stroke="#5cb648" stroke-width="0.6" stroke-linejoin="miter"/>
<path d="M439.4 153.2L443.9 159.8L434.9 159.8Z" fill="#5cb648" stroke="#5cb648" stroke-width="0.6" stroke-linejoin="miter"/>
<path d="M441.6 152.9L446.1 159.5L437.1 159.5Z" fill="#5cb648" stroke="#5cb648" stroke-width="0.6" stroke-linejoin="miter"/>
<path d="M443.8 152.6L448.3 159.2L439.3 159.2Z" fill="#5cb648" stroke="#5cb648" stroke-width="0.6" stroke-linejoin="miter"/>
<path d="M446.0 152.3L450.5 158.9L441.5 158.9Z" fill="#5cb648" stroke="#5cb648" stroke-width="0.6" stroke-linejoin="miter"/>
<path d="M448.2 151.9L452.7 158.5L443.7 158.5Z" fill="#5cb648" stroke="#5cb648" stroke-width="0.6" stroke-linejoin="miter"/>
<path d="M450.4 151.7L454.9 158.3L445.9 158.3Z" fill="#5cb648" stroke="#5cb648" stroke-width="0.6" stroke-linejoin="miter"/>
<path d="M452.6 151.5L457.1 158.1L448.1 158.1Z" fill="#5cb648" stroke="#5cb648" stroke-width="0.6" stroke-linejoin="miter"/>
<path d="M454.8 151.3L459.3 157.9L450.3 157.9Z" fill="#5cb648" stroke="#5cb648" stroke-width="0.6" stroke-linejoin="miter"/>
<path d="M457.0 151.1L461.5 157.7L452.5 157.7Z" fill="#5cb648" stroke="#5cb648" stroke-width="0.6" stroke-linejoin="miter"/>
<path d="M393.7 157.1L399.7 167.5L387.7 167.5Z" fill="none" stroke="#5cb648" stroke-width="1.0" stroke-linejoin="miter"/>
<path d="M397.1 155.2L403.1 165.6L391.1 165.6Z" fill="none" stroke="#5cb648" stroke-width="1.0" stroke-linejoin="miter"/>
<path d="M400.8 153.6L406.8 164.0L394.8 164.0Z" fill="none" stroke="#5cb648" stroke-width="1.0" stroke-linejoin="miter"/>
<path d="M404.5 152.4L410.5 162.8L398.5 162.8Z" fill="none" stroke="#5cb648" stroke-width="1.0" stroke-linejoin="miter"/>
<path d="M408.3 151.3L414.3 161.7L402.3 161.7Z" fill="none" stroke="#5cb648" stroke-width="1.0" stroke-linejoin="miter"/>
<path d="M412.2 150.6L418.2 161.0L406.2 161.0Z" fill="none" stroke="#5cb648" stroke-width="1.0" stroke-linejoin="miter"/>
<path d="M416.2 150.2L422.2 160.6L410.2 160.6Z" fill="none" stroke="#5cb648" stroke-width="1.0" stroke-linejoin="miter"/>
<path d="M420.1 149.8L426.1 160.2L414.1 160.2Z" fill="none" stroke="#5cb648" stroke-width="1.0" stroke-linejoin="miter"/>
<path d="M424.0 149.5L430.0 159.9L418.0 159.9Z" fill="none" stroke="#5cb648" stroke-width="1.0" stroke-linejoin="miter"/>
<path d="M428.0 149.2L434.0 159.6L422.0 159.6Z" fill="none" stroke="#5cb648" stroke-width="1.0" stroke-linejoin="miter"/>
<path d="M431.9 148.8L437.9 159.2L425.9 159.2Z" fill="none" stroke="#5cb648" stroke-width="1.0" stroke-linejoin="miter"/>
<path d="M435.8 148.2L441.8 158.6L429.8 158.6Z" fill="none" stroke="#5cb648" stroke-width="1.0" stroke-linejoin="miter"/>
<path d="M439.7 147.7L445.7 158.1L433.7 158.1Z" fill="none" stroke="#5cb648" stroke-width="1.0" stroke-linejoin="miter"/>
<path d="M443.6 146.8L449.6 157.2L437.6 157.2Z" fill="none" stroke="#5cb648" stroke-width="1.0" stroke-linejoin="miter"/>
<path d="M447.4 145.8L453.4 156.2L441.4 156.2Z" fill="none" stroke="#5cb648" stroke-width="1.0" stroke-linejoin="miter"/>
<path d="M451.4 145.4L457.4 155.8L445.4 155.8Z" fill="none" stroke="#5cb648" stroke-width="1.0" stroke-linejoin="miter"/>
<path d="M455.3 145.2L461.3 155.6L449.3 155.6Z" fill="none" stroke="#5cb648" stroke-width="1.0" stroke-linejoin="miter"/>
<circle cx="419.2" cy="196.5" r="4.7" fill="none" stroke="#c8222a" stroke-width="1.1"/>
<circle cx="425.3" cy="191.2" r="4.7" fill="none" stroke="#c8222a" stroke-width="1.1"/>
<circle cx="431.5" cy="189.2" r="4.7" fill="none" stroke="#c8222a" stroke-width="1.1"/>
<circle cx="437.6" cy="188.4" r="4.7" fill="none" stroke="#c8222a" stroke-width="1.1"/>
<circle cx="443.4" cy="189.6" r="4.7" fill="none" stroke="#c8222a" stroke-width="1.1"/>
<circle cx="448.8" cy="189.3" r="4.7" fill="none" stroke="#c8222a" stroke-width="1.1"/>
<circle cx="454.1" cy="189.1" r="4.7" fill="none" stroke="#c8222a" stroke-width="1.1"/>
<circle cx="459.5" cy="188.6" r="4.7" fill="none" stroke="#c8222a" stroke-width="1.1"/>
<circle cx="464.8" cy="187.9" r="4.7" fill="none" stroke="#c8222a" stroke-width="1.1"/>
<circle cx="470.2" cy="187.3" r="4.7" fill="none" stroke="#c8222a" stroke-width="1.1"/>
<circle cx="475.5" cy="186.8" r="4.7" fill="none" stroke="#c8222a" stroke-width="1.1"/>
<circle cx="480.9" cy="186.4" r="4.7" fill="none" stroke="#c8222a" stroke-width="1.1"/>
<circle cx="486.3" cy="186.0" r="4.7" fill="none" stroke="#c8222a" stroke-width="1.1"/>
<circle cx="491.6" cy="185.7" r="4.7" fill="none" stroke="#c8222a" stroke-width="1.1"/>
<circle cx="497.0" cy="185.5" r="4.7" fill="none" stroke="#c8222a" stroke-width="1.1"/>
<circle cx="412.3" cy="198.0" r="3.4" fill="#c8222a" stroke="#c8222a" stroke-width="0.4"/>
<circle cx="419.0" cy="197.0" r="3.4" fill="#c8222a" stroke="#c8222a" stroke-width="0.4"/>
<circle cx="425.0" cy="194.8" r="3.4" fill="#c8222a" stroke="#c8222a" stroke-width="0.4"/>
<circle cx="431.3" cy="192.6" r="3.4" fill="#c8222a" stroke="#c8222a" stroke-width="0.4"/>
<circle cx="436.8" cy="191.4" r="3.4" fill="#c8222a" stroke="#c8222a" stroke-width="0.4"/>
<circle cx="441.0" cy="191.4" r="3.4" fill="#c8222a" stroke="#c8222a" stroke-width="0.4"/>
<circle cx="444.1" cy="191.0" r="3.4" fill="#c8222a" stroke="#c8222a" stroke-width="0.4"/>
<circle cx="447.3" cy="190.6" r="3.4" fill="#c8222a" stroke="#c8222a" stroke-width="0.4"/>
<circle cx="450.4" cy="190.2" r="3.4" fill="#c8222a" stroke="#c8222a" stroke-width="0.4"/>
<circle cx="453.6" cy="189.9" r="3.4" fill="#c8222a" stroke="#c8222a" stroke-width="0.4"/>
<circle cx="456.7" cy="189.5" r="3.4" fill="#c8222a" stroke="#c8222a" stroke-width="0.4"/>
<circle cx="459.8" cy="189.1" r="3.4" fill="#c8222a" stroke="#c8222a" stroke-width="0.4"/>
<circle cx="463.0" cy="188.7" r="3.4" fill="#c8222a" stroke="#c8222a" stroke-width="0.4"/>
<circle cx="466.1" cy="188.3" r="3.4" fill="#c8222a" stroke="#c8222a" stroke-width="0.4"/>
<circle cx="469.2" cy="187.9" r="3.4" fill="#c8222a" stroke="#c8222a" stroke-width="0.4"/>
<circle cx="472.4" cy="187.5" r="3.4" fill="#c8222a" stroke="#c8222a" stroke-width="0.4"/>
<circle cx="475.5" cy="187.2" r="3.4" fill="#c8222a" stroke="#c8222a" stroke-width="0.4"/>
<circle cx="478.7" cy="186.9" r="3.4" fill="#c8222a" stroke="#c8222a" stroke-width="0.4"/>
<circle cx="481.8" cy="186.7" r="3.4" fill="#c8222a" stroke="#c8222a" stroke-width="0.4"/>
<circle cx="485.0" cy="186.4" r="3.4" fill="#c8222a" stroke="#c8222a" stroke-width="0.4"/>
<circle cx="488.1" cy="186.1" r="3.4" fill="#c8222a" stroke="#c8222a" stroke-width="0.4"/>
<circle cx="491.3" cy="186.0" r="3.4" fill="#c8222a" stroke="#c8222a" stroke-width="0.4"/>
<circle cx="494.4" cy="185.8" r="3.4" fill="#c8222a" stroke="#c8222a" stroke-width="0.4"/>
<circle cx="497.6" cy="185.7" r="3.4" fill="#c8222a" stroke="#c8222a" stroke-width="0.4"/>
<circle cx="503.3" cy="185.6" r="4.5" fill="#fff" stroke="#c8222a" stroke-width="1.15"/>
<rect x="313.1" y="21.0" width="204.29999999999995" height="183.3" fill="none" stroke="#000" stroke-width="2.05"/>
<path d="M350.1 204.3v-4.2M350.1 21.0v4.2" stroke="#000" stroke-width="1.6"/><path d="M387.2 204.3v-4.2M387.2 21.0v4.2" stroke="#000" stroke-width="1.6"/><path d="M424.3 204.3v-4.2M424.3 21.0v4.2" stroke="#000" stroke-width="1.6"/><path d="M461.4 204.3v-4.2M461.4 21.0v4.2" stroke="#000" stroke-width="1.6"/><path d="M498.5 204.3v-4.2M498.5 21.0v4.2" stroke="#000" stroke-width="1.6"/><path d="M331.6 204.3v-2.3M331.6 21.0v2.3" stroke="#000" stroke-width="1.4"/><path d="M368.6 204.3v-2.3M368.6 21.0v2.3" stroke="#000" stroke-width="1.4"/><path d="M405.8 204.3v-2.3M405.8 21.0v2.3" stroke="#000" stroke-width="1.4"/><path d="M442.8 204.3v-2.3M442.8 21.0v2.3" stroke="#000" stroke-width="1.4"/><path d="M479.9 204.3v-2.3M479.9 21.0v2.3" stroke="#000" stroke-width="1.4"/>
<path d="M313.1 146.1h4.4M517.4 146.1h-4.4" stroke="#000" stroke-width="1.6"/><path d="M313.1 68.0h4.4M517.4 68.0h-4.4" stroke="#000" stroke-width="1.6"/><path d="M313.1 185.2h2.4M517.4 185.2h-2.4" stroke="#000" stroke-width="1.4"/><path d="M313.1 107.1h2.4M517.4 107.1h-2.4" stroke="#000" stroke-width="1.4"/><path d="M313.1 29.0h2.4M517.4 29.0h-2.4" stroke="#000" stroke-width="1.4"/>
<rect x="437.0" y="46.2" width="80.39999999999998" height="70.8" fill="#fff" stroke="#111" stroke-width="1.3"/>
<path d="M517.4 44.2V119.0" stroke="#000" stroke-width="2.05"/>
<circle cx="452.0" cy="55.4" r="3.1" fill="#c8222a" stroke="#c8222a" stroke-width="0.4"/>
<path d="M452.0 68.9L456.2 76.3L447.8 76.3Z" fill="#5cb648" stroke="#5cb648" stroke-width="0.5" stroke-linejoin="miter"/>
<rect x="448.8" y="88.8" width="6.4" height="6.4" fill="#4a74c6" stroke="#4a74c6" stroke-width="0.4"/>
<path d="M452.0 105.1L456.4 109.5L452.0 113.9L447.6 109.5Z" fill="#3b4aa6" stroke="#3b4aa6" stroke-width="0.4"/>
<text x="1.5" y="19.8" font-size="24.2" text-anchor="start" textLength="25.8" lengthAdjust="spacingAndGlyphs" style="">(a)</text>
<text x="275.0" y="20.8" font-size="24.5" text-anchor="start" textLength="28.8" lengthAdjust="spacingAndGlyphs" style="">(b)</text>
<text x="68.6" y="223.7" font-size="18" text-anchor="middle"  style="">-0.3</text>
<text x="115.8" y="223.7" font-size="18" text-anchor="middle"  style="">-0.2</text>
<text x="163.0" y="223.7" font-size="18" text-anchor="middle"  style="">-0.1</text>
<text x="211.2" y="223.7" font-size="18" text-anchor="middle"  style="">0.0</text>
<text x="258.4" y="223.7" font-size="18" text-anchor="middle"  style="">0.1</text>
<text x="311.6" y="223.6" font-size="18" text-anchor="middle"  style="">-0.2</text>
<text x="348.7" y="223.6" font-size="18" text-anchor="middle"  style="">-0.1</text>
<text x="387.2" y="223.6" font-size="18" text-anchor="middle"  style="">0.0</text>
<text x="424.3" y="223.6" font-size="18" text-anchor="middle"  style="">0.1</text>
<text x="461.4" y="223.6" font-size="18" text-anchor="middle"  style="">0.2</text>
<text x="498.5" y="223.6" font-size="18" text-anchor="middle"  style="">0.3</text>
<text x="49.5" y="201.5" font-size="18" text-anchor="end"  style="">0.0</text>
<text x="49.5" y="118.1" font-size="18" text-anchor="end"  style="">0.5</text>
<text x="49.5" y="34.7" font-size="18" text-anchor="end"  style="">1.0</text>
<text x="307.5" y="152.1" font-size="18" text-anchor="end"  style="">0.1</text>
<text x="307.5" y="74.0" font-size="18" text-anchor="end"  style="">0.2</text>
<text transform="translate(159.3,253.0) scale(1.27,1) skewX(-10)" font-size="27.3" text-anchor="middle" style="font-style:italic;stroke:none">ε</text>
<text transform="translate(417.1,253.3) scale(1.27,1) skewX(-10)" font-size="27.3" text-anchor="middle" style="font-style:italic;stroke:none">ε</text>
<text transform="translate(24.3,132.95) rotate(-90)" font-size="30" style="font-style:italic">b<tspan dx="-3.2">/</tspan><tspan dx="0.72">b</tspan><tspan font-size="20.5" dy="7.8" dx="1.9">0</tspan></text>
<text transform="translate(286.7,129.6) rotate(-90)" font-size="29" style="font-style:italic">a/w</text>
<text x="472" y="60.2" font-size="13.4"><tspan style="font-style:italic" font-size="15.5">α</tspan><tspan dx="1.5">=</tspan><tspan dx="2.6">0.45</tspan></text>
<text x="472" y="77.8" font-size="13.4"><tspan style="font-style:italic" font-size="15.5">α</tspan><tspan dx="1.5">=</tspan><tspan dx="2.6">0.57</tspan></text>
<text x="472" y="96.3" font-size="13.4"><tspan style="font-style:italic" font-size="15.5">α</tspan><tspan dx="1.5">=</tspan><tspan dx="2.6">1.1</tspan></text>
<text x="472" y="113.8" font-size="13.4"><tspan style="font-style:italic" font-size="15.5">α</tspan><tspan dx="1.5">=</tspan><tspan dx="2.6">2.4</tspan></text>
</svg>
</body></html>
